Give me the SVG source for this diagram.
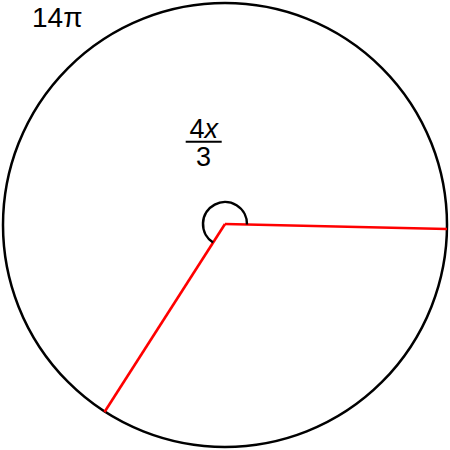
<svg xmlns="http://www.w3.org/2000/svg" width="450" height="450" viewBox="0 0 450 450">
<style>
.lbl{font-family:"Liberation Sans",Arial,sans-serif;fill:#000}
.red{stroke:#ff0000;stroke-width:2.6;fill:none}
</style>
<rect width="450" height="450" fill="#fff"/>
<g id="circle">
<circle cx="225" cy="225" r="222" fill="none" stroke="#000" stroke-width="2.5"/>
</g>
<g id="connectors">
<line class="red" x1="225" y1="224" x2="447" y2="229"/>
<line class="red" x1="225" y1="224" x2="104.5" y2="412"/>
</g>
<g id="angle-arc">
<path d="M247,224.5 A22,22 0 1 0 213.1,242.5" fill="none" stroke="#000" stroke-width="2.5"/>
</g>
<g id="circumference-label">
<text class="lbl" x="32" y="26.5" font-size="28">14π</text>
</g>
<g id="angle-label">
<text class="lbl" x="203.7" y="138.3" font-size="27" text-anchor="middle">4<tspan font-style="italic">x</tspan></text>
<line x1="185.7" y1="141.7" x2="221.7" y2="141.7" stroke="#000" stroke-width="2"/>
<text class="lbl" x="203.5" y="165.7" font-size="27" text-anchor="middle">3</text>
</g>
</svg>
